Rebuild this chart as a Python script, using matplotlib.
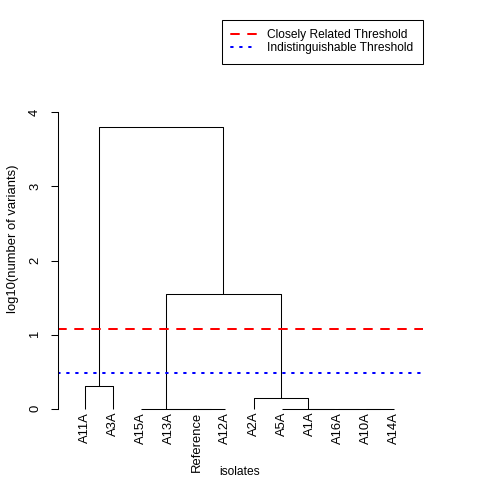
import matplotlib
matplotlib.use("Agg")
import matplotlib.pyplot as plt

plt.rcParams['font.family'] = ['Liberation Sans', 'DejaVu Sans']

# leaf labels in dendrogram order
labels = ['A11A', 'A3A', 'A15A', 'A13A', 'Reference', 'A12A',
          'A2A', 'A5A', 'A1A', 'A16A', 'A10A', 'A14A']

# hclust style merge table: negative = leaf (1-based), positive = earlier merge
merge_left = [-5, -4, -3, -11, -10, -9, -8, -7, -1, 3, 9]
merge_right = [-6, 1, 2, -12, 4, 5, 6, 7, -2, 8, 10]
heights = [0, 0, 0, 0, 0, 0, 0, 0.148, 0.305, 1.544, 3.80]

close_thr = 1.08
indist_thr = 0.478

fs = 12 * 72 / 100   # 12px text at dpi 100
fs_rot = 13 * 72 / 100  # rotated text renders a bit wider in the original

fig = plt.figure(figsize=(4.8, 4.8), dpi=100)
W = H = 480.0
# axes placed so that data units line up with the pixel layout
ax = fig.add_axes([58 / W, 1 - 418 / H, (423 - 58) / W, (418 - 100) / H])
ax.set_xlim(0.0515, 13.02)
ax.set_ylim(-0.1255, 4.166)

pos = {}


def node(i):
    if i < 0:
        return float(-i), 0.0
    return pos[i]


for k, (l, r, h) in enumerate(zip(merge_left, merge_right, heights), start=1):
    xl, yl = node(l)
    xr, yr = node(r)
    ax.plot([xl, xl, xr, xr], [yl, h, h, yr], color='black', lw=0.75,
            solid_capstyle='butt')
    pos[k] = ((xl + xr) / 2, h)

for i, lab in enumerate(labels, start=1):
    ax.annotate(lab, (i, 0), xytext=(0, -2.3), textcoords='offset points',
                rotation=90, ha='center', va='top', fontsize=fs_rot,
                annotation_clip=False)

l1, = ax.plot(ax.get_xlim(), [close_thr, close_thr], color='red', lw=1.44,
              linestyle=(0, (4, 4.5)), dash_capstyle='round')
l2, = ax.plot(ax.get_xlim(), [indist_thr, indist_thr], color='blue', lw=1.44,
              linestyle=(0, (0.9, 3.6)), dash_capstyle='round')

for s in ['top', 'right', 'bottom']:
    ax.spines[s].set_visible(False)
ax.spines['left'].set_bounds(0, 4)
ax.spines['left'].set_linewidth(0.75)
ax.set_xticks([])
ax.set_yticks([0, 1, 2, 3, 4])
ax.tick_params(axis='y', length=5.2, width=0.75, pad=7, labelsize=fs_rot)
for t in ax.get_yticklabels():
    t.set_rotation(90)
    t.set_va('center')

fig.text(13 / W, 1 - 239 / H, 'log10(number of variants)', rotation=90,
         ha='center', va='center', fontsize=fs_rot)
fig.text(240 / W, 1 - 472 / H, 'isolates', ha='center', va='center',
         fontsize=fs)

leg = ax.legend([l1, l2], ['Closely Related Threshold', 'Indistinguishable Threshold'],
                loc='upper right', bbox_to_anchor=(422.7 / W, 1 - 19.7 / H),
                bbox_transform=fig.transFigure, borderaxespad=0,
                fontsize=fs, handlelength=2.1, handletextpad=0.9,
                labelspacing=0.1, borderpad=0.78, fancybox=False,
                framealpha=1, edgecolor='black')
leg.get_frame().set_linewidth(0.75)

fig.savefig('out.png', dpi=100)
